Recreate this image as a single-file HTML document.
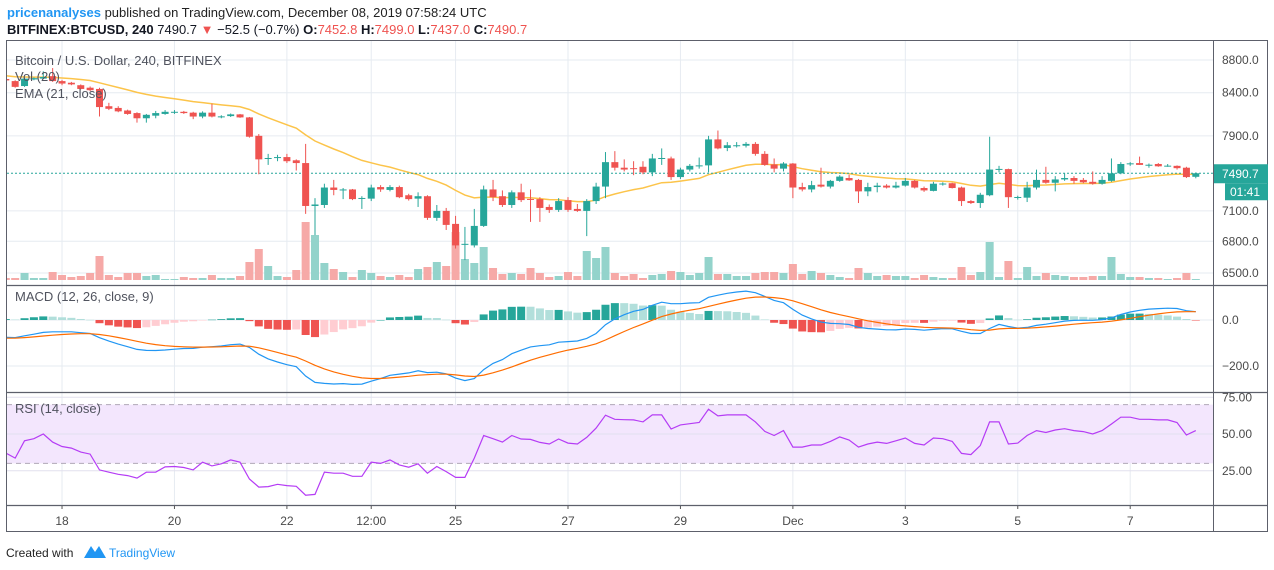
<!DOCTYPE html>
<html><head><meta charset="utf-8">
<style>
html,body{margin:0;padding:0;background:#fff;width:1274px;height:570px;overflow:hidden;font-family:"Liberation Sans",sans-serif;}
svg text{font-family:"Liberation Sans",sans-serif;}
</style></head>
<body>
<svg id="chart" width="1274" height="570" viewBox="0 0 1274 570" xmlns="http://www.w3.org/2000/svg">
<text x="7" y="17" font-size="13" fill="#222"><tspan fill="#2196f3" font-weight="bold">pricenanalyses</tspan> published on TradingView.com, December 08, 2019 07:58:24 UTC</text>
<text x="7" y="34" font-size="13" font-weight="bold" fill="#131722">BITFINEX:BTCUSD, 240 <tspan font-weight="normal">7490.7</tspan><tspan fill="#ef5350" font-weight="normal"> ▼ </tspan><tspan font-weight="normal">−52.5 (−0.7%) </tspan>O:<tspan fill="#ef5350" font-weight="normal">7452.8 </tspan>H:<tspan fill="#ef5350" font-weight="normal">7499.0 </tspan>L:<tspan fill="#ef5350" font-weight="normal">7437.0 </tspan>C:<tspan fill="#ef5350" font-weight="normal">7490.7</tspan></text>
<g id="grid"></g>
<g id="main"></g>
<g id="macd"></g>
<g id="rsi"></g>
<g id="frame"></g>
<text x="6" y="557" font-size="12" fill="#222">Created with</text>
<g><path d="M84 558 L91 546 L95 552 L99 546 L106 558 Z" fill="#2196f3"/></g>
<text x="109" y="557" font-size="12" fill="#2196f3">TradingView</text>
</svg>
<script>
const opens=[8565,8540,8480,8560,8570,8600,8540,8520,8490,8460,8445,8240,8220,8190,8160,8100,8130,8150,8172,8175,8165,8120,8165,8120,8125,8145,8110,7900,7650,7655,7665,7630,7600,7150,7160,7340,7320,7320,7230,7225,7345,7315,7345,7260,7225,7250,7030,7100,6970,6770,6760,6950,7320,7250,7160,7290,7222,7220,7140,7110,7210,7120,7100,7200,7350,7610,7550,7545,7560,7500,7650,7650,7450,7530,7572,7575,7860,7765,7790,7790,7810,7700,7585,7540,7595,7345,7320,7370,7350,7410,7440,7420,7300,7345,7360,7340,7360,7410,7335,7305,7380,7385,7340,7200,7180,7260,7535,7535,7240,7235,7340,7420,7390,7425,7440,7420,7400,7380,7410,7490,7595,7600,7580,7590,7570,7570,7550,7452.8];
const highs=[8575,8550,8585,8585,8660,8700,8555,8530,8500,8475,8460,8280,8240,8200,8170,8150,8185,8195,8195,8185,8175,8180,8270,8135,8155,8150,8115,7920,7700,7690,7700,7640,7810,7230,7380,7420,7335,7325,7250,7370,7365,7365,7360,7275,7290,7260,7160,7130,7050,6940,7120,7360,7420,7310,7310,7380,7320,7240,7165,7230,7240,7170,7220,7390,7720,7730,7640,7620,7620,7700,7760,7670,7550,7590,7660,7900,7960,7830,7830,7830,7830,7730,7650,7610,7600,7390,7410,7550,7420,7470,7475,7430,7390,7390,7375,7400,7440,7420,7350,7400,7395,7390,7350,7210,7285,7890,7570,7540,7255,7400,7530,7560,7460,7490,7460,7440,7510,7460,7650,7610,7610,7670,7595,7600,7590,7575,7560,7499];
const lows=[8540,8460,8470,8550,8565,8530,8490,8490,8440,8420,8120,8195,8170,8140,8050,8050,8100,8140,8150,8150,8090,8100,8110,8100,8115,8105,7880,7480,7580,7620,7600,7520,7070,6860,7130,7260,7220,7210,7120,7200,7295,7300,7230,7205,7140,7010,7000,6910,6730,6620,6740,6940,7200,7140,7130,7190,6990,6990,7080,7090,7090,7090,6850,7170,7230,7520,7510,7470,7480,7460,7580,7420,7430,7510,7540,7500,7750,7730,7770,7770,7680,7570,7500,7510,7230,7300,7290,7340,7330,7400,7410,7180,7250,7290,7330,7330,7350,7330,7295,7300,7360,7330,7150,7170,7130,7250,7500,7130,7215,7190,7320,7380,7300,7410,7380,7385,7370,7370,7400,7480,7570,7580,7550,7560,7560,7530,7440,7437];
const closes=[8548,8470,8570,8575,8590,8540,8510,8500,8445,8430,8230,8210,8180,8150,8100,8140,8160,8175,8175,8160,8120,8165,8120,8122,8145,8110,7890,7640,7655,7665,7620,7600,7150,7165,7340,7315,7320,7220,7232,7340,7320,7345,7240,7220,7250,7030,7100,6960,6760,6775,6950,7320,7240,7160,7290,7210,7220,7130,7110,7200,7110,7100,7200,7350,7610,7550,7530,7540,7500,7650,7655,7450,7530,7570,7575,7860,7760,7795,7795,7810,7700,7580,7540,7595,7340,7320,7365,7350,7410,7455,7415,7300,7345,7360,7340,7360,7410,7340,7310,7380,7382,7335,7200,7180,7265,7530,7537,7240,7242,7340,7420,7390,7425,7440,7410,7395,7380,7420,7490,7590,7597,7580,7582,7565,7572,7545,7450,7490.7];
const volumes=[2,2,7,2,2,8,5,3,4,7,24,5,3,7,7,4,5,1,1,3,2,2,5,2,2,4,18,31,14,4,3,10,58,45,17,11,8,3,10,7,4,3,5,3,11,13,18,14,48,21,17,33,12,6,7,6,12,7,3,4,8,4,29,22,33,7,4,6,2,5,6,9,8,5,7,23,6,6,4,4,7,8,8,7,16,6,9,7,5,3,2,12,7,4,5,4,4,2,5,3,2,2,13,5,8,38,3,19,2,13,4,7,5,4,3,3,4,4,23,6,3,3,2,2,1,2,7,1];
const rsiValues=[37,33.6,45.4,46.8,50,44.5,41.5,40.4,37.7,36.3,25.6,24,22.6,21.7,20,24,24,27.6,27.9,27.2,25.6,30.8,28.3,29.7,32.4,30.8,19.4,13.9,14.2,15.8,14.9,14.4,8.4,8.9,24,23.3,23.3,21.2,21.2,30.8,30,32.4,29,27.4,29.7,23.3,27.9,24.4,20.5,20.5,33.6,49,46.8,44.5,49,46.6,46.3,44.3,43.2,46.6,43.8,43.2,47.7,54,62.8,60,59.7,59.6,58.2,63,63,53.4,56.2,57,57.8,66.9,62.3,63,63,63,58.2,51.8,49,52.3,41.1,41.1,42.5,42.5,45,48,45.9,41.1,43.2,44.5,43.6,45.4,47.3,43.6,42.5,47.3,46.8,45,36.8,36,42.2,58.2,58.2,43.2,43.8,49,52.3,51,52.7,53.6,52.3,51.6,50,52.3,56.8,61.4,61.4,60,60,59.6,59.6,57.8,49.3,52.3];
const priceTicks=[8800,8400,7900,7100,6800,6500];
const priceTickLabels=["8800.0","8400.0","7900.0","7100.0","6800.0","6500.0"];
const macdTicks=[0,-200];
const macdTickLabels=["0.0","−200.0"];
const rsiTicks=[75,50,25];
const rsiTickLabels=["75.00","50.00","25.00"];
const timeIdx=[6,18,30,39,48,60,72,84,96,108,120];
const timeLabels=["18","20","22","12:00","25","27","29","Dec","3","5","7"];
const emaSeed=[8610];
const macdSeeds=[8560,8640,-80];

const NS="http://www.w3.org/2000/svg";
function mk(parent,tag,attrs){const e=document.createElementNS(NS,tag);for(const k in attrs)e.setAttribute(k,attrs[k]);parent.appendChild(e);return e;}
const PL=7,PR=1213;
const xOf=i=>5.8+9.37*i;
const yP=p=>60+703*(Math.log(8800)-Math.log(p));
const VOLBASE=280, volScale=v=>v*1.0;
const yM=v=>320-v*0.23;
const yR=r=>434-(r-50)*1.47;

const grid=document.getElementById('grid');
const main=document.getElementById('main');
const macdG=document.getElementById('macd');
const rsiG=document.getElementById('rsi');
const frame=document.getElementById('frame');

// clip paths
const defs=mk(document.getElementById('chart'),'defs',{});
const c1=mk(defs,'clipPath',{id:'cMain'});mk(c1,'rect',{x:PL,y:41,width:PR-PL,height:243});
const c2=mk(defs,'clipPath',{id:'cMacd'});mk(c2,'rect',{x:PL,y:286,width:PR-PL,height:105});
const c3=mk(defs,'clipPath',{id:'cRsi'});mk(c3,'rect',{x:PL,y:393,width:PR-PL,height:111});
main.setAttribute('clip-path','url(#cMain)');macdG.setAttribute('clip-path','url(#cMacd)');rsiG.setAttribute('clip-path','url(#cRsi)');

// grid lines
timeIdx.forEach((ti,k)=>{
  const g=mk(grid,'line',{x1:xOf(ti),x2:xOf(ti),y1:41,y2:505,stroke:'#e6ebf1','stroke-width':1});
  
  
  const t=mk(frame,'text',{x:xOf(ti),y:525,'font-size':12,fill:'#4a4a4a','text-anchor':'middle'});
  t.textContent=timeLabels[k];
  
  
  mk(frame,'line',{x1:xOf(ti),x2:xOf(ti),y1:505,y2:509,stroke:'#555'});
});
priceTicks.forEach((p,k)=>{
  const g=mk(grid,'line',{x1:PL,x2:PR,y1:yP(p),y2:yP(p),stroke:'#e6ebf1'});
  
  
  const t=mk(frame,'text',{x:1222,y:yP(p)+4,'font-size':12,fill:'#4a4a4a'});
  t.textContent=priceTickLabels[k];
  
  
});
macdTicks.forEach((v,k)=>{
  const g=mk(grid,'line',{x1:PL,x2:PR,y1:yM(v),y2:yM(v),stroke:'#e6ebf1'});
  
  
  const t=mk(frame,'text',{x:1222,y:yM(v)+4,'font-size':12,fill:'#4a4a4a'});
  t.textContent=macdTickLabels[k];
  
  
});
// RSI band
const band=mk(rsiG,'rect',{x:PL,y:yR(70),width:PR-PL,height:yR(30)-yR(70),fill:'#f3e6fd'});


rsiTicks.forEach((v,k)=>{
  const g=mk(rsiG,'line',{x1:PL,x2:PR,y1:yR(v),y2:yR(v),stroke:'#e2e0ee'});
  
  
  const t=mk(frame,'text',{x:1222,y:yR(v)+4,'font-size':12,fill:'#4a4a4a'});
  t.textContent=rsiTickLabels[k];
  
  
});
[70,30].forEach(v=>{
  const l=mk(rsiG,'line',{x1:PL,x2:PR,y1:yR(v),y2:yR(v),stroke:'#b0a8b8','stroke-dasharray':'5,4'});
  
  
});

// volume
for(let i=0;i<closes.length;i++){
  const up=closes[i]>=opens[i];
  const h=volScale(volumes[i]);
  const r=mk(main,'rect',{x:xOf(i)-4,y:VOLBASE-h,width:8,height:h,fill:up?'#93d3cb':'#f6a9a7'});
  
  
}
// EMA 21
let ema=emaSeed[0];const emaPts=[];
for(let i=0;i<closes.length;i++){ema=ema+(closes[i]-ema)*2/22;emaPts.push(xOf(i).toFixed(1)+','+yP(ema).toFixed(1));}
const emaL=mk(main,'polyline',{points:emaPts.join(' '),fill:'none',stroke:'#fcc44a','stroke-width':1.5});


// last price line
const lp=closes[closes.length-1];
const dl=mk(main,'line',{x1:PL,x2:PR,y1:yP(lp),y2:yP(lp),stroke:'#26a69a','stroke-dasharray':'2,2'});


// candles
for(let i=0;i<closes.length;i++){
  const up=closes[i]>=opens[i];const col=up?'#26a69a':'#ef5350';const x=xOf(i);
  const g=mk(main,'g',{});
  
  
  mk(g,'line',{x1:x,x2:x,y1:yP(highs[i]),y2:yP(lows[i]),stroke:col,'stroke-width':1});
  const yt=yP(Math.max(opens[i],closes[i])),yb=yP(Math.min(opens[i],closes[i]));
  mk(g,'rect',{x:x-3.5,y:yt,width:7,height:Math.max(1,yb-yt),fill:col});
}
// MACD
let e12=macdSeeds[0],e26=macdSeeds[1],sig=macdSeeds[2];const mPts=[],sPts=[],hist=[];
for(let i=0;i<closes.length;i++){
  e12+= (closes[i]-e12)*2/13; e26+=(closes[i]-e26)*2/27;
  const m=e12-e26; sig+=(m-sig)*2/10;
  mPts.push(xOf(i).toFixed(1)+','+yM(m).toFixed(1));sPts.push(xOf(i).toFixed(1)+','+yM(sig).toFixed(1));hist.push(m-sig);
}
for(let i=0;i<hist.length;i++){
  const h=hist[i],prev=i>0?hist[i-1]:h;
  let col;
  if(h>=0)col=h>=prev?'#26a69a':'#b2dfdb';else col=h<prev?'#ef5350':'#ffcdd2';
  const y0=yM(0),y1=yM(h);
  const r=mk(macdG,'rect',{x:xOf(i)-4,y:Math.min(y0,y1),width:8,height:Math.max(0.5,Math.abs(y1-y0)),fill:col});
  
  
}
const ml=mk(macdG,'polyline',{points:mPts.join(' '),fill:'none',stroke:'#2196f3','stroke-width':1.2});


const sl=mk(macdG,'polyline',{points:sPts.join(' '),fill:'none',stroke:'#ff6d00','stroke-width':1.2});


// RSI
const rl=mk(rsiG,'polyline',{points:rsiValues.map((r,i)=>xOf(i).toFixed(1)+','+yR(r).toFixed(1)).join(' '),fill:'none',stroke:'#b53cf5','stroke-width':1.2});



// frame
mk(frame,'rect',{x:6.5,y:40.5,width:1261,height:491,fill:'none',stroke:'#5d606b','stroke-width':1});
mk(frame,'line',{x1:PR+0.5,x2:PR+0.5,y1:40,y2:532,stroke:'#5d606b'});
[285.5,392.5,505.5].forEach(y=>mk(frame,'line',{x1:6,x2:1268,y1:y,y2:y,stroke:'#5d606b','stroke-width':1.2}));
// titles
[['Bitcoin / U.S. Dollar, 240, BITFINEX',65,'main-title'],['Vol (20)',81,'vol-title'],['EMA (21, close)',98,'ema-title'],['MACD (12, 26, close, 9)',301,'macd-title'],['RSI (14, close)',413,'rsi-title']].forEach(a=>{
  const t=mk(frame,'text',{x:15,y:a[1],'font-size':13,fill:'#50535e'});
  t.textContent=a[0];
  
  
});
// price label
const lb=mk(frame,'rect',{x:1214,y:yP(lp)-9,width:54,height:19,fill:'#26a69a'});


const lt=mk(frame,'text',{x:1222,y:yP(lp)+5,'font-size':12,fill:'#fff'});
lt.textContent=lp.toFixed(1);


const cb=mk(frame,'rect',{x:1225,y:yP(lp)+10,width:43,height:17,fill:'#26a69a'});


const ct=mk(frame,'text',{x:1230,y:yP(lp)+23,'font-size':12,fill:'#fff'});
ct.textContent='01:41';


</script>
</body></html>
